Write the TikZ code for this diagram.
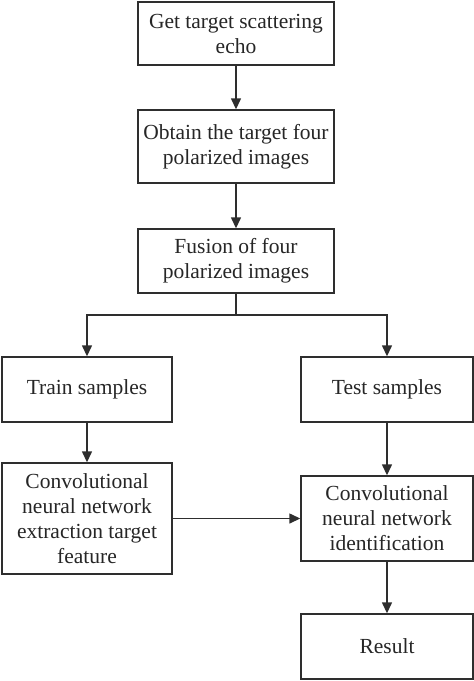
\documentclass[tikz,border=0pt]{standalone}
\usepackage{fontspec}
\setmainfont{Liberation Serif}
\usetikzlibrary{arrows.meta}
\definecolor{linegray}{HTML}{2E2E2E}
\definecolor{textgray}{HTML}{262626}
\begin{document}
\begin{tikzpicture}[x=1pt,y=-1pt,
  box/.style={draw=linegray, line width=1.4pt, rectangle, align=center, inner sep=0pt,
    text=textgray, font=\fontsize{21.5}{25}\selectfont},
  conn/.style={draw=linegray, line width=1.4pt},
  arr/.style={conn, -{Triangle[length=11pt,width=10pt]}}]
\useasboundingbox (0,0) rectangle (474,681);
\node[box, minimum width=196pt, minimum height=63pt] (b1) at (236,33.5) {Get target scattering\\echo};
\node[box, minimum width=196pt, minimum height=73pt] (b2) at (236,146.5) {Obtain the target four\\polarized images};
\node[box, minimum width=196pt, minimum height=64pt] (b3) at (236,261) {Fusion of four\\polarized images};
\node[box, minimum width=170pt, minimum height=65pt] (train) at (87,389.5) {Train samples};
\node[box, minimum width=172pt, minimum height=65pt] (test) at (387,389.5) {Test samples};
\node[box, minimum width=170pt, minimum height=111pt] (cnn1) at (87,518.5) {Convolutional\\neural network\\extraction target\\feature};
\node[box, minimum width=172pt, minimum height=85pt] (cnn2) at (387,518.5) {Convolutional\\neural network\\identification};
\node[box, minimum width=172pt, minimum height=65pt] (res) at (387,646.5) {Result};
\coordinate (split) at (236,315);
\draw[arr] (b1) -- (b2);
\draw[arr] (b2) -- (b3);
\draw[conn] (b3.south) -- (split);
\draw[arr] (split) -| (train.north);
\draw[arr] (split) -| (test.north);
\draw[arr] (train) -- (cnn1);
\draw[arr] (test) -- (cnn2);
\draw[arr] (cnn1) -- (cnn2);
\draw[arr] (cnn2) -- (res);
\end{tikzpicture}
\end{document}
